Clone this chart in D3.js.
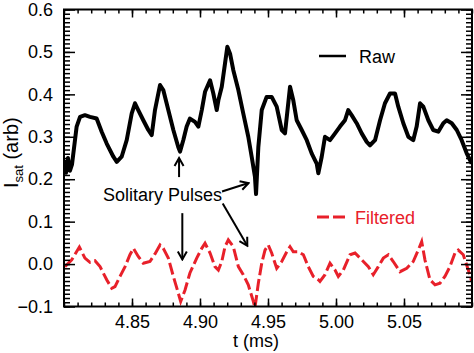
<!DOCTYPE html>
<html>
<head>
<meta charset="utf-8">
<script src="https://cdn.jsdelivr.net/npm/d3@7"></script>
<style>
  body { margin: 0; background: #fff; }
  svg { display: block; font-family: "Liberation Sans", Arial, Helvetica, sans-serif; }
  .axis line { stroke: #000; stroke-width: 1.5; }
  .axis path { display: none; }
  .axis text { font-size: 18px; fill: #000; }
</style>
</head>
<body>
<div id="chart"></div>
<script>
// time (ms) and values for the raw Isat trace
const rawT = [4.8000, 4.8015, 4.8029, 4.8044, 4.8059, 4.8093, 4.8118, 4.8154, 4.8191, 4.8240,
  4.8277, 4.8314, 4.8363, 4.8388, 4.8424, 4.8461, 4.8498, 4.8522, 4.8546, 4.8583,
  4.8620, 4.8645, 4.8669, 4.8706, 4.8730, 4.8767, 4.8804, 4.8840, 4.8853, 4.8877,
  4.8902, 4.8926, 4.8963, 4.8988, 4.9013, 4.9037, 4.9074, 4.9098, 4.9123, 4.9135,
  4.9160, 4.9184, 4.9201, 4.9221, 4.9245, 4.9282, 4.9318, 4.9355, 4.9380, 4.9404,
  4.9412, 4.9429, 4.9454, 4.9490, 4.9527, 4.9564, 4.9601, 4.9625, 4.9662, 4.9686,
  4.9711, 4.9748, 4.9785, 4.9821, 4.9858, 4.9870, 4.9895, 4.9919, 4.9956, 4.9993,
  5.0029, 5.0066, 5.0090, 5.0115, 5.0152, 5.0189, 5.0226, 5.0250, 5.0287, 5.0324,
  5.0360, 5.0397, 5.0434, 5.0458, 5.0495, 5.0532, 5.0568, 5.0593, 5.0618, 5.0642,
  5.0679, 5.0715, 5.0752, 5.0789, 5.0814, 5.0851, 5.0888, 5.0924, 5.0961, 5.0998];
const rawV = [0.245, 0.215, 0.250, 0.220, 0.235, 0.324, 0.347, 0.351, 0.347, 0.343,
  0.312, 0.284, 0.253, 0.241, 0.253, 0.292, 0.355, 0.379, 0.363, 0.339,
  0.316, 0.304, 0.363, 0.422, 0.410, 0.363, 0.316, 0.276, 0.265, 0.292,
  0.324, 0.343, 0.335, 0.324, 0.363, 0.406, 0.433, 0.402, 0.363, 0.386,
  0.418, 0.473, 0.512, 0.496, 0.457, 0.410, 0.355, 0.300, 0.253, 0.206,
  0.165, 0.276, 0.363, 0.394, 0.394, 0.371, 0.316, 0.308, 0.418, 0.386,
  0.339, 0.316, 0.292, 0.261, 0.237, 0.214, 0.253, 0.300, 0.292, 0.308,
  0.324, 0.339, 0.363, 0.351, 0.332, 0.308, 0.288, 0.280, 0.292, 0.339,
  0.379, 0.402, 0.402, 0.371, 0.332, 0.300, 0.292, 0.324, 0.379, 0.371,
  0.339, 0.316, 0.312, 0.332, 0.339, 0.332, 0.316, 0.292, 0.261, 0.237];

// filtered trace
const filtT = [4.8007, 4.8057, 4.8113, 4.8154, 4.8191, 4.8228, 4.8265, 4.8314, 4.8351, 4.8375,
  4.8412, 4.8449, 4.8485, 4.8510, 4.8546, 4.8583, 4.8632, 4.8669, 4.8706, 4.8730,
  4.8767, 4.8804, 4.8840, 4.8858, 4.8890, 4.8926, 4.8976, 4.9013, 4.9037, 4.9074,
  4.9110, 4.9135, 4.9160, 4.9184, 4.9208, 4.9245, 4.9282, 4.9318, 4.9355, 4.9392,
  4.9404, 4.9429, 4.9454, 4.9478, 4.9502, 4.9527, 4.9564, 4.9601, 4.9638, 4.9662,
  4.9686, 4.9723, 4.9760, 4.9796, 4.9833, 4.9870, 4.9882, 4.9919, 4.9956, 4.9993,
  5.0017, 5.0054, 5.0103, 5.0140, 5.0189, 5.0238, 5.0274, 5.0311, 5.0348, 5.0385,
  5.0421, 5.0471, 5.0520, 5.0568, 5.0605, 5.0630, 5.0654, 5.0691, 5.0728, 5.0765,
  5.0801, 5.0838, 5.0875, 5.0899, 5.0936, 5.0973, 5.0998];
const filtV = [-0.006, 0.010, 0.040, 0.014, 0.004, 0.008, -0.006, -0.037, -0.057, -0.053,
  -0.029, -0.006, 0.022, 0.037, 0.018, 0.002, 0.006, 0.024, 0.045, 0.037,
  0.014, -0.029, -0.068, -0.088, -0.061, -0.021, 0.014, 0.037, 0.049, 0.026,
  -0.006, -0.014, 0.006, 0.041, 0.057, 0.041, -0.006, -0.025, -0.049, -0.088,
  -0.103, -0.045, 0.002, 0.033, 0.045, 0.026, -0.010, 0.006, 0.029, 0.041,
  0.029, 0.029, 0.022, -0.006, -0.029, -0.037, -0.041, -0.025, 0.002, -0.014,
  -0.029, -0.014, 0.022, 0.026, 0.010, -0.006, -0.025, -0.006, 0.014, 0.022,
  0.006, -0.018, -0.010, 0.006, 0.033, 0.053, 0.010, -0.037, -0.049, -0.045,
  -0.029, -0.006, 0.026, 0.033, 0.022, -0.014, -0.041];

const xTicks = [4.85, 4.90, 4.95, 5.00, 5.05];
const yTicks = [-0.1, 0.0, 0.1, 0.2, 0.3, 0.4, 0.5, 0.6];

// annotation arrows, [t0, v0, t1, v1] in data units
const arrows = [
  [4.8846, 0.205, 4.8846, 0.250],
  [4.9162, 0.171, 4.9357, 0.191],
  [4.8870, 0.120, 4.8870, 0.011],
  [4.9167, 0.143, 4.9348, 0.043]
];

const W = 474, H = 353;
const margin = {top: 9.5, right: 2, bottom: 46.5, left: 64};

const svg = d3.select("#chart").append("svg")
    .attr("width", W)
    .attr("height", H);

const x = d3.scaleLinear().domain([4.80, 5.10]).range([margin.left, W - margin.right]);
const y = d3.scaleLinear().domain([-0.1, 0.6]).range([H - margin.bottom, margin.top]);

const xMinor = d3.range(480, 511).map(i => i / 100);
const yMinor = d3.range(-10, 61).map(i => i / 100);

svg.append("clipPath").attr("id", "clip")
  .append("rect")
    .attr("x", margin.left).attr("y", margin.top)
    .attr("width", W - margin.left - margin.right)
    .attr("height", H - margin.top - margin.bottom);

// data lines
const rawLine = d3.line().x((d, i) => x(rawT[i])).y(d => y(d));
const filtLine = d3.line().x((d, i) => x(filtT[i])).y(d => y(d));

svg.append("path")
    .attr("clip-path", "url(#clip)")
    .attr("d", rawLine(rawV))
    .attr("fill", "none")
    .attr("stroke", "#000")
    .attr("stroke-width", 4)
    .attr("stroke-linejoin", "round");

svg.append("path")
    .attr("clip-path", "url(#clip)")
    .attr("d", filtLine(filtV))
    .attr("fill", "none")
    .attr("stroke", "#e8202a")
    .attr("stroke-width", 3)
    .attr("stroke-dasharray", "12,4");

// axes, ticks pointing inward on all four sides
const yb = H - margin.bottom, yt = margin.top, xl = margin.left, xr = W - margin.right;

svg.append("g").attr("class", "axis").attr("transform", `translate(0,${yb})`)
    .call(d3.axisBottom(x).tickValues(xMinor).tickSize(-4).tickFormat(""));
svg.append("g").attr("class", "axis").attr("transform", `translate(0,${yb})`)
    .call(d3.axisBottom(x).tickValues(xTicks).tickSize(-8).tickPadding(9).tickFormat(d3.format(".2f")));
svg.append("g").attr("class", "axis").attr("transform", `translate(0,${yt})`)
    .call(d3.axisTop(x).tickValues(xMinor).tickSize(-4).tickFormat(""));
svg.append("g").attr("class", "axis").attr("transform", `translate(0,${yt})`)
    .call(d3.axisTop(x).tickValues(xTicks).tickSize(-8).tickFormat(""));

svg.append("g").attr("class", "axis").attr("transform", `translate(${xl},0)`)
    .call(d3.axisLeft(y).tickValues(yMinor).tickSize(-6).tickFormat(""));
svg.append("g").attr("class", "axis").attr("transform", `translate(${xl},0)`)
    .call(d3.axisLeft(y).tickValues(yTicks).tickSize(-11).tickPadding(11).tickFormat(d3.format(".1f")));
svg.append("g").attr("class", "axis").attr("transform", `translate(${xr},0)`)
    .call(d3.axisRight(y).tickValues(yMinor).tickSize(-6).tickFormat(""));
svg.append("g").attr("class", "axis").attr("transform", `translate(${xr},0)`)
    .call(d3.axisRight(y).tickValues(yTicks).tickSize(-11).tickFormat(""));

svg.append("rect")
    .attr("x", xl).attr("y", yt)
    .attr("width", xr - xl).attr("height", yb - yt)
    .attr("fill", "none")
    .attr("stroke", "#000")
    .attr("stroke-width", 2);

// axis titles
svg.append("text")
    .attr("x", 256).attr("y", 347)
    .attr("text-anchor", "middle")
    .attr("font-size", 18)
    .text("t (ms)");

const yt0 = svg.append("text")
    .attr("transform", "translate(18,188) rotate(-90)")
    .attr("font-size", 20);
yt0.append("tspan").text("I");
yt0.append("tspan").attr("font-size", 13).attr("dy", 5).text("sat");
yt0.append("tspan").attr("dy", -5).text(" (arb)");

// legend
svg.append("line")
    .attr("x1", 319).attr("x2", 346).attr("y1", 56).attr("y2", 56)
    .attr("stroke", "#000").attr("stroke-width", 2.5);
svg.append("text").attr("x", 359).attr("y", 62.5).attr("font-size", 18).text("Raw");

svg.append("line")
    .attr("x1", 317).attr("x2", 345).attr("y1", 217).attr("y2", 217)
    .attr("stroke", "#e8202a").attr("stroke-width", 3)
    .attr("stroke-dasharray", "12,4");
svg.append("text").attr("x", 355).attr("y", 223.5).attr("font-size", 18)
    .attr("fill", "#e8202a").text("Filtered");

// annotation
svg.append("defs").append("marker")
    .attr("id", "head")
    .attr("viewBox", "-10 -6 12 12")
    .attr("markerWidth", 12).attr("markerHeight", 12)
    .attr("markerUnits", "userSpaceOnUse")
    .attr("orient", "auto")
  .append("path")
    .attr("d", "M-8,-4.5 L0,0 L-8,4.5")
    .attr("fill", "none")
    .attr("stroke", "#000")
    .attr("stroke-width", 2);

svg.selectAll(".arrow").data(arrows).join("line")
    .attr("class", "arrow")
    .attr("x1", d => x(d[0])).attr("y1", d => y(d[1]))
    .attr("x2", d => x(d[2])).attr("y2", d => y(d[3]))
    .attr("stroke", "#000").attr("stroke-width", 2)
    .attr("marker-end", "url(#head)");

svg.append("text")
    .attr("x", x(4.8287)).attr("y", y(0.1475))
    .attr("font-size", 18)
    .text("Solitary Pulses");
</script>
</body>
</html>
